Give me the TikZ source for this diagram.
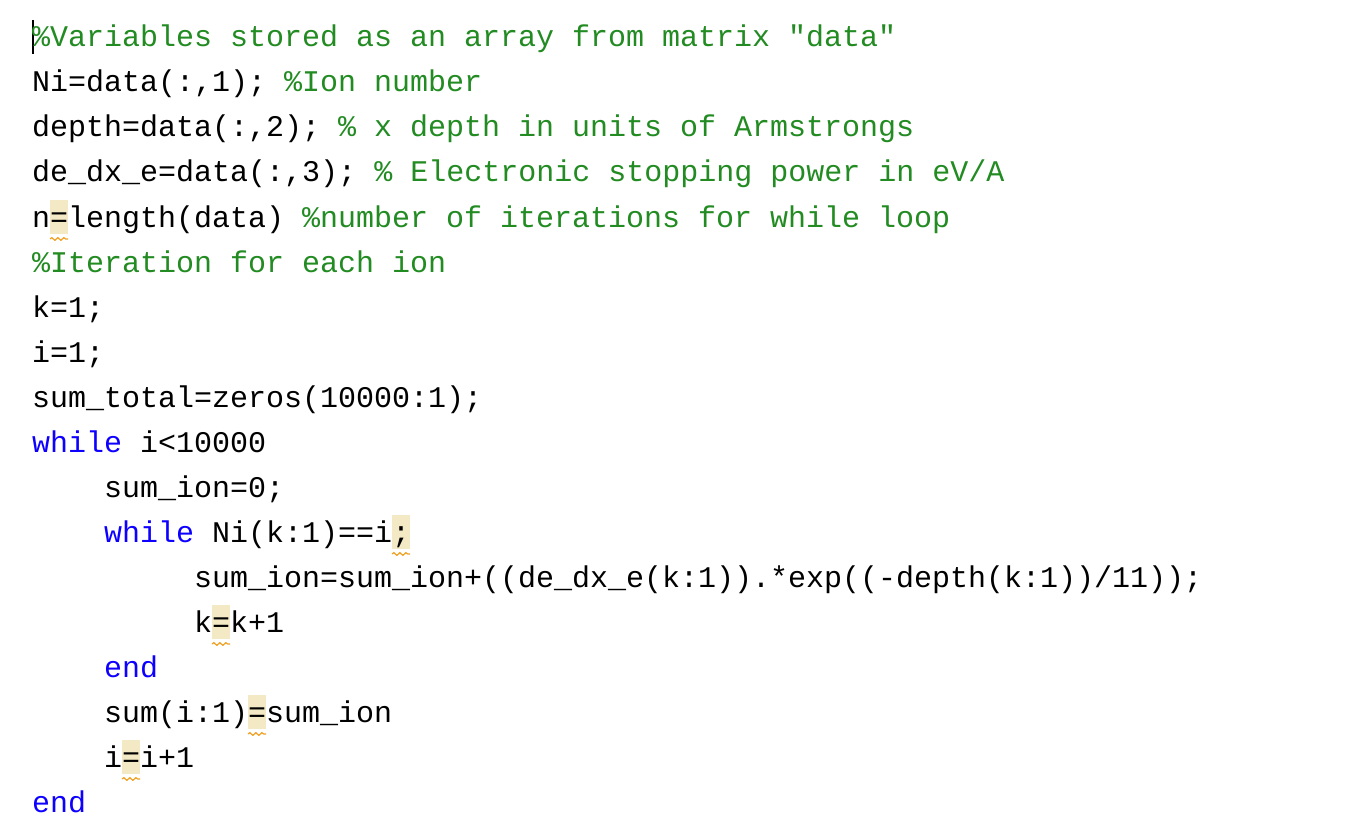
\documentclass[tikz,border=0pt]{standalone}
\usepackage{fontspec}
\setmonofont{Liberation Mono}
\usetikzlibrary{decorations.pathmorphing}
\definecolor{cmt}{HTML}{228B22}
\definecolor{kw}{HTML}{0E00FF}
\definecolor{hl}{HTML}{F3E9C4}
\definecolor{sq}{HTML}{F0A020}
\begin{document}
\begin{tikzpicture}[x=1pt,y=1pt,
  code/.style={anchor=base west,inner sep=0pt,font=\ttfamily\fontsize{30}{30}\selectfont},
  hlbox/.style={fill=hl,draw=none},
  squig/.style={draw=sq,line width=1.2pt,decorate,decoration={snake,amplitude=1.3pt,segment length=6pt}}]
\useasboundingbox[fill=white] (0,0) rectangle (1345,-824);
\newcommand{\hlat}[2]{%
  \fill[hl] (#1,{-37-45*#2-17}) rectangle ({#1+18},{-37-45*#2+17});
  \draw[squig] (#1,{-37-45*#2+20-42}) -- ({#1+18},{-37-45*#2+20-42});}
\hlat{50}{4}
\hlat{392}{11}
\hlat{212}{13}
\hlat{248}{15}
\hlat{122}{16}
\draw[line width=1.5pt] (33,-20) -- (33,-54);
\node[code] (l0) at (32,-47) {\textcolor{cmt}{\%Variables stored as an array from matrix "data"}};
\node[code] (l1) at (32,-92) {Ni=data(:,1); \textcolor{cmt}{\%Ion number}};
\node[code] (l2) at (32,-137) {depth=data(:,2); \textcolor{cmt}{\% x depth in units of Armstrongs}};
\node[code] (l3) at (32,-182) {de\_dx\_e=data(:,3); \textcolor{cmt}{\% Electronic stopping power in eV/A}};
\node[code] (l4) at (32,-227) {n=length(data) \textcolor{cmt}{\%number of iterations for while loop}};
\node[code] (l5) at (32,-272) {\textcolor{cmt}{\%Iteration for each ion}};
\node[code] (l6) at (32,-317) {k=1;};
\node[code] (l7) at (32,-362) {i=1;};
\node[code] (l8) at (32,-407) {sum\_total=zeros(10000:1);};
\node[code] (l9) at (32,-452) {\textcolor{kw}{while} i<10000};
\node[code] (l10) at (104,-497) {sum\_ion=0;};
\node[code] (l11) at (104,-542) {\textcolor{kw}{while} Ni(k:1)==i;};
\node[code] (l12) at (194,-587) {sum\_ion=sum\_ion+((de\_dx\_e(k:1)).*exp((-depth(k:1))/11));};
\node[code] (l13) at (194,-632) {k=k+1};
\node[code] (l14) at (104,-677) {\textcolor{kw}{end}};
\node[code] (l15) at (104,-722) {sum(i:1)=sum\_ion};
\node[code] (l16) at (104,-767) {i=i+1};
\node[code] (l17) at (32,-812) {\textcolor{kw}{end}};
\end{tikzpicture}
\end{document}
